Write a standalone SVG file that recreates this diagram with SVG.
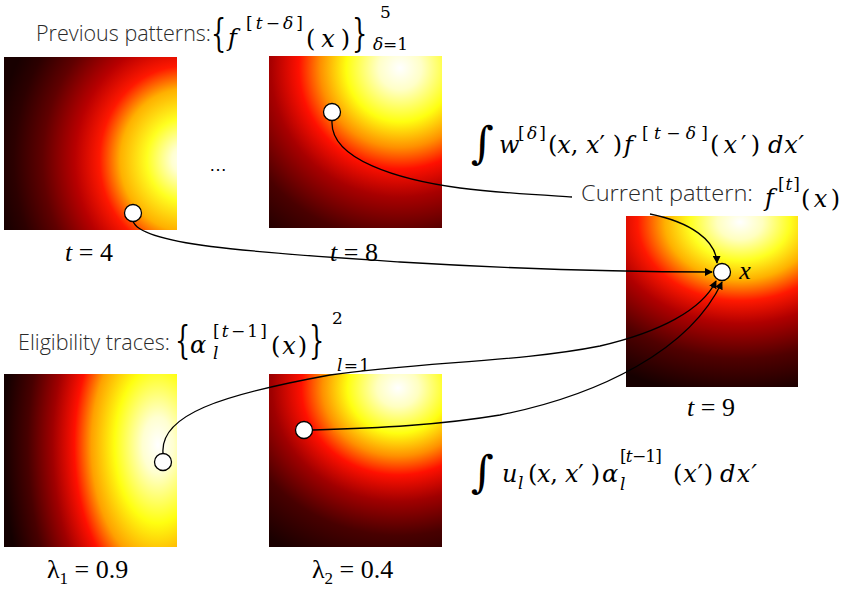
<svg xmlns="http://www.w3.org/2000/svg" width="846" height="589" viewBox="0 0 846 589">
<style>
.lbl{font-family:'Open Sans';font-weight:300;font-size:22px;fill:#2a2a2a}
.m{font-family:'DejaVu Serif';font-size:24px;fill:#000}
.ms{font-family:'DejaVu Serif';font-size:17px;fill:#000}
.br{font-family:'DejaVu Serif';font-size:40px;fill:#000}
.int{font-family:'DejaVu Serif';font-size:44px;fill:#000}
.cap{font-family:'Liberation Serif';font-size:26px;fill:#000;text-anchor:middle}
.dot{fill:#fff;stroke:#000;stroke-width:1.3}
.con{fill:none;stroke:#000;stroke-width:1.3}
</style>
<defs>
<marker id="ah" viewBox="0 0 10 10" refX="9" refY="5" markerWidth="8" markerHeight="8" markerUnits="userSpaceOnUse" orient="auto">
<path d="M0,0 L10,5 L0,10 z" fill="#000"/>
</marker>
<radialGradient id="g1" gradientUnits="userSpaceOnUse" cx="185" cy="160" r="190" gradientTransform="translate(185 160) scale(1 1.1) translate(-185 -160)">
<stop offset="0" stop-color="#ffffff"/><stop offset="0.07" stop-color="#ffffd0"/><stop offset="0.2" stop-color="#ffff20"/><stop offset="0.34" stop-color="#ffb000"/><stop offset="0.45" stop-color="#ff1800"/><stop offset="0.58" stop-color="#b80000"/><stop offset="0.75" stop-color="#600000"/><stop offset="0.9" stop-color="#2c0000"/><stop offset="1" stop-color="#180000"/>
</radialGradient>
<radialGradient id="g2" gradientUnits="userSpaceOnUse" cx="400" cy="68" r="215">
<stop offset="0" stop-color="#ffffff"/><stop offset="0.1" stop-color="#ffffc8"/><stop offset="0.25" stop-color="#ffff10"/><stop offset="0.37" stop-color="#ff9000"/><stop offset="0.47" stop-color="#ff1000"/><stop offset="0.6" stop-color="#a80000"/><stop offset="0.8" stop-color="#4a0000"/><stop offset="1" stop-color="#1c0000"/>
</radialGradient>
<radialGradient id="g3" gradientUnits="userSpaceOnUse" cx="158" cy="445" r="155" gradientTransform="translate(158 445) scale(1 1.8) translate(-158 -445)">
<stop offset="0" stop-color="#ffffff"/><stop offset="0.1" stop-color="#ffffd0"/><stop offset="0.28" stop-color="#ffff10"/><stop offset="0.43" stop-color="#ffa000"/><stop offset="0.54" stop-color="#ff1000"/><stop offset="0.68" stop-color="#a00000"/><stop offset="0.84" stop-color="#480000"/><stop offset="1" stop-color="#140000"/>
</radialGradient>
<radialGradient id="g4" gradientUnits="userSpaceOnUse" cx="398" cy="388" r="210" gradientTransform="translate(398 388) scale(1 0.9) translate(-398 -388)">
<stop offset="0" stop-color="#ffffff"/><stop offset="0.1" stop-color="#ffffc0"/><stop offset="0.24" stop-color="#ffff10"/><stop offset="0.36" stop-color="#ff9000"/><stop offset="0.46" stop-color="#ff1000"/><stop offset="0.6" stop-color="#a00000"/><stop offset="0.78" stop-color="#480000"/><stop offset="1" stop-color="#1a0000"/>
</radialGradient>
<radialGradient id="g5" gradientUnits="userSpaceOnUse" cx="740" cy="222" r="175" gradientTransform="translate(740 222) scale(1.3 1) translate(-740 -222)">
<stop offset="0" stop-color="#ffffff"/><stop offset="0.1" stop-color="#ffffc0"/><stop offset="0.22" stop-color="#ffff20"/><stop offset="0.33" stop-color="#ffb000"/><stop offset="0.45" stop-color="#ff1800"/><stop offset="0.58" stop-color="#b00000"/><stop offset="0.78" stop-color="#500000"/><stop offset="1" stop-color="#160000"/>
</radialGradient>
</defs>

<g id="title-previous">
<text class="lbl" font-family="Open Sans" font-weight="300" x="36" y="41" textLength="175" lengthAdjust="spacingAndGlyphs">Previous patterns:</text>
<text class="br" font-family="DejaVu Serif" transform="translate(211 46) scale(0.6 1)">{</text>
<text class="m" font-family="DejaVu Serif" font-style="italic" x="228" y="46">f</text>
<text class="ms" font-family="DejaVu Serif" x="246" y="29" textLength="57" lengthAdjust="spacing">[<tspan font-style="italic">t</tspan>−<tspan font-style="italic">δ</tspan>]</text>
<text class="m" font-family="DejaVu Serif" x="306" y="47" textLength="44" lengthAdjust="spacing">(<tspan font-style="italic">x</tspan>)</text>
<text class="br" font-family="DejaVu Serif" transform="translate(352 46) scale(0.6 1)">}</text>
<text class="ms" font-family="DejaVu Serif" x="380" y="18">5</text>
<text class="ms" font-family="DejaVu Serif" x="373" y="50" textLength="35" lengthAdjust="spacing"><tspan font-style="italic">δ</tspan>=1</text>
</g>

<g id="heatmap-t4">
<rect x="4" y="57" width="173" height="173" fill="url(#g1)"/>
<text class="cap" font-family="Liberation Serif" x="89" y="261"><tspan font-style="italic">t</tspan> = 4</text>
</g>

<g id="ellipsis"><text x="209" y="171" font-family="Liberation Sans" font-size="18" fill="#000">…</text></g>

<g id="heatmap-t8">
<rect x="269" y="56" width="173" height="172" fill="url(#g2)"/>
<text class="cap" font-family="Liberation Serif" x="354" y="261"><tspan font-style="italic">t</tspan> = 8</text>
</g>

<g id="formula-w">
<text class="int" font-family="DejaVu Serif" x="471" y="158">∫</text>
<text class="m" font-family="DejaVu Serif" font-style="italic" x="499" y="153">w</text>
<text class="ms" font-family="DejaVu Serif" x="518" y="139" textLength="28" lengthAdjust="spacing">[<tspan font-style="italic">δ</tspan>]</text>
<text class="m" font-family="DejaVu Serif" x="548" y="153" textLength="74" lengthAdjust="spacing">(<tspan font-style="italic">x</tspan>, <tspan font-style="italic">x</tspan>′ )</text>
<text class="m" font-family="DejaVu Serif" font-style="italic" x="624" y="153">f</text>
<text class="ms" font-family="DejaVu Serif" x="642" y="139" textLength="66" lengthAdjust="spacing">[<tspan font-style="italic">t</tspan>−<tspan font-style="italic">δ</tspan>]</text>
<text class="m" font-family="DejaVu Serif" x="710" y="153" textLength="50" lengthAdjust="spacing">(<tspan font-style="italic">x</tspan>′)</text>
<text class="m" font-family="DejaVu Serif" font-style="italic" x="768" y="153" textLength="36" lengthAdjust="spacing">dx′</text>
</g>

<g id="current-pattern">
<text class="lbl" font-family="Open Sans" font-weight="300" x="581" y="201" textLength="172" lengthAdjust="spacingAndGlyphs">Current pattern:</text>
<text class="m" font-family="DejaVu Serif" font-style="italic" x="765" y="206">f</text>
<text class="ms" font-family="DejaVu Serif" x="778" y="190" textLength="22" lengthAdjust="spacing">[<tspan font-style="italic">t</tspan>]</text>
<text class="m" font-family="DejaVu Serif" x="801" y="207" textLength="39" lengthAdjust="spacing">(<tspan font-style="italic">x</tspan>)</text>
</g>

<g id="heatmap-t9">
<rect x="626" y="216" width="172" height="171" fill="url(#g5)"/>
<text class="cap" font-family="Liberation Serif" x="711" y="416"><tspan font-style="italic">t</tspan> = 9</text>
<text class="cap" font-family="Liberation Serif" font-style="italic" x="745" y="279">x</text>
</g>

<g id="title-eligibility">
<text class="lbl" font-family="Open Sans" font-weight="300" x="18" y="350" textLength="152" lengthAdjust="spacingAndGlyphs">Eligibility traces:</text>
<text class="br" font-family="DejaVu Serif" transform="translate(175 353) scale(0.6 1)">{</text>
<text class="m" font-family="DejaVu Serif" font-style="italic" x="190" y="353">α</text>
<text class="ms" font-family="DejaVu Serif" x="213" y="337" textLength="54" lengthAdjust="spacing">[<tspan font-style="italic">t</tspan>−1]</text>
<text class="ms" font-family="DejaVu Serif" font-style="italic" x="213" y="359">l</text>
<text class="m" font-family="DejaVu Serif" x="271" y="354" textLength="36" lengthAdjust="spacing">(<tspan font-style="italic">x</tspan>)</text>
<text class="br" font-family="DejaVu Serif" transform="translate(309 353) scale(0.6 1)">}</text>
<text class="ms" font-family="DejaVu Serif" x="332" y="324">2</text>
<text class="ms" font-family="DejaVu Serif" x="337" y="371" textLength="33" lengthAdjust="spacing"><tspan font-style="italic">l</tspan>=1</text>
</g>

<g id="heatmap-l1">
<rect x="4" y="374" width="173" height="173" fill="url(#g3)"/>
<text font-family="Liberation Serif" font-size="26" fill="#000" x="47" y="578">λ<tspan font-size="17" dy="6">1</tspan><tspan dy="-6"> = 0.9</tspan></text>
</g>

<g id="heatmap-l2">
<rect x="269" y="374" width="173" height="173" fill="url(#g4)"/>
<text font-family="Liberation Serif" font-size="26" fill="#000" x="312" y="578">λ<tspan font-size="17" dy="6">2</tspan><tspan dy="-6"> = 0.4</tspan></text>
</g>

<g id="formula-u">
<text class="int" font-family="DejaVu Serif" x="471" y="487">∫</text>
<text class="m" font-family="DejaVu Serif" font-style="italic" x="502" y="482">u</text>
<text class="ms" font-family="DejaVu Serif" font-style="italic" x="518" y="489">l</text>
<text class="m" font-family="DejaVu Serif" x="528" y="482" textLength="72" lengthAdjust="spacing">(<tspan font-style="italic">x</tspan>, <tspan font-style="italic">x</tspan>′ )</text>
<text class="m" font-family="DejaVu Serif" font-style="italic" x="602" y="482">α</text>
<text class="ms" font-family="DejaVu Serif" x="620" y="462" textLength="42" lengthAdjust="spacing">[<tspan font-style="italic">t</tspan>−1]</text>
<text class="ms" font-family="DejaVu Serif" font-style="italic" x="620" y="490">l</text>
<text class="m" font-family="DejaVu Serif" x="673" y="482" textLength="40" lengthAdjust="spacing">(<tspan font-style="italic">x</tspan>′)</text>
<text class="m" font-family="DejaVu Serif" font-style="italic" x="720" y="482" textLength="37" lengthAdjust="spacing">dx′</text>
</g>

<g id="connectors">
<path class="con" d="M133,221 C140,245 250,252 400,262 C500,268 620,272 712,272" marker-end="url(#ah)"/>
<path class="con" d="M332,121 C330,160 400,180 460,188 C500,193 540,195 572,197"/>
<path class="con" d="M650,214 C690,222 716,240 717,263" marker-end="url(#ah)"/>
<path class="con" d="M163,453 C160,415 220,395 330,375 C420,362 520,362 600,346 C660,332 702,310 716,281" marker-end="url(#ah)"/>
<path class="con" d="M313,430 C380,428 440,425 500,415 C600,395 690,350 722,282" marker-end="url(#ah)"/>
</g>

<g id="points">
<circle class="dot" cx="133" cy="213" r="8.5"/>
<circle class="dot" cx="332" cy="112" r="8.5"/>
<circle class="dot" cx="163" cy="462" r="8.5"/>
<circle class="dot" cx="304" cy="430" r="8.5"/>
<circle class="dot" cx="722" cy="272" r="8.5"/>
</g>
</svg>
